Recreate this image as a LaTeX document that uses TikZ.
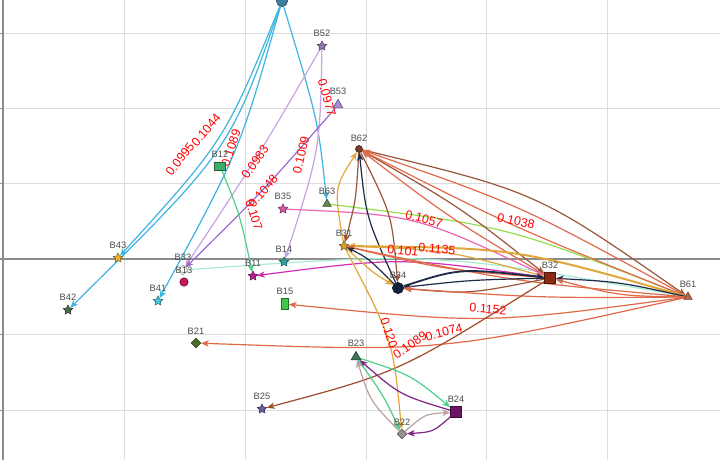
\documentclass[tikz,border=0pt]{standalone}
\usepackage{fontspec}
\setmainfont{Liberation Sans}
\usetikzlibrary{arrows.meta,shapes.geometric}
% colores de aristas
\definecolor{cyanE}{HTML}{3DB5DE}
\definecolor{lavE}{HTML}{C9A2E6}
\definecolor{purpE}{HTML}{9A6CCF}
\definecolor{greenE}{HTML}{4FD08A}
\definecolor{mintE}{HTML}{A6EDD2}
\definecolor{magE}{HTML}{D02FB5}
\definecolor{pinkE}{HTML}{E866B2}
\definecolor{limeE}{HTML}{95E04E}
\definecolor{brownE}{HTML}{9C5538}
\definecolor{orangeE}{HTML}{E0694A}
\definecolor{navyE}{HTML}{1E2A4A}
\definecolor{goldE}{HTML}{E0A63A}
\definecolor{plumE}{HTML}{7E2382}
\definecolor{roseE}{HTML}{B9A0A3}
\definecolor{rustE}{HTML}{A04A2A}
\definecolor{gridC}{HTML}{DCDCDC}
\definecolor{axisC}{HTML}{8C8C8C}
% colores de nodos
\definecolor{cTop}{HTML}{3D7FA0}
\definecolor{cVio}{HTML}{8E78B0}
\definecolor{cLila}{HTML}{A88AD8}
\definecolor{cCafe}{HTML}{7A3A2A}
\definecolor{cOliva}{HTML}{5E8A4A}
\definecolor{cRosa}{HTML}{D45AA8}
\definecolor{cVerde}{HTML}{3FAE6A}
\definecolor{cOro}{HTML}{EDB428}
\definecolor{cMusgo}{HTML}{4E6B52}
\definecolor{cCarmin}{HTML}{C2185B}
\definecolor{cTurq}{HTML}{48C6D4}
\definecolor{cFucsia}{HTML}{B8208E}
\definecolor{cTeal}{HTML}{2EA3A3}
\definecolor{cLima}{HTML}{3CC84A}
\definecolor{cMostaza}{HTML}{D9A02C}
\definecolor{cMarino}{HTML}{14213D}
\definecolor{cGranate}{HTML}{8B2A12}
\definecolor{cTeja}{HTML}{B5654F}
\definecolor{cPino}{HTML}{4B6E2A}
\definecolor{cBosque}{HTML}{3B7556}
\definecolor{cCiruela}{HTML}{6E1466}
\definecolor{cGris}{HTML}{9A9096}
\definecolor{cMalva}{HTML}{6A5C9C}
\pgfdeclarelayer{bg}
\pgfdeclarelayer{edges}
\pgfsetlayers{bg,edges,main}

\begin{document}
\begin{tikzpicture}[x=0.025cm, y=-0.025cm, label distance=2pt,
    mk/.style={inner sep=0pt, minimum size=6pt, line width=0.4pt, draw=#1!55!black, fill=#1},
    mc/.style={mk=#1, circle},
    ms/.style={mk=#1, rectangle},
    md/.style={mk=#1, diamond, minimum size=7pt},
    mtri/.style={mk=#1, regular polygon, regular polygon sides=3, minimum size=8pt},
    mstar/.style={mk=#1, star, star points=5, star point ratio=2, minimum size=7pt},
    lb/.style={text=black!70, font=\fontsize{6.6}{7}\selectfont, inner sep=0.5pt},
    e/.style={draw=#1, line width=0.85pt, -{Stealth[length=5.5pt, width=4.5pt, inset=1.5pt]}},
    wt/.style={text=red, font=\fontsize{8.8}{9}\selectfont, inner sep=0pt}]
    \useasboundingbox (0,0) rectangle (720,460);
    % fondo, rejilla y ejes
    \begin{pgfonlayer}{bg}
    \fill[white] (0,0) rectangle (720,460);
    \foreach \x in {124,245,366,486,607}
        \draw[gridC, line width=0.7pt] (\x,0) -- (\x,460);
    \foreach \y in {33,108,183,334,410} {
        \draw[gridC, line width=0.7pt] (3,\y) -- (720,\y);
        \draw[axisC, line width=0.7pt] (0,\y) -- (3,\y);
    }
    \draw[axisC, line width=1pt] (0,259) -- (720,259);
    \draw[axisC, line width=1pt] (3,0) -- (3,460);
    \end{pgfonlayer}

    % nodos
    \node[mc=cTop, minimum size=8pt] (top) at (282,1) {};
    \node[mstar=cVio, label={[lb]above:B52}] (B52) at (322,46) {};
    \node[mtri=cLila, label={[lb]above:B53}] (B53) at (338,105) {};
    \node[mc=cCafe, minimum size=5pt, label={[lb]above:B62}] (B62) at (359,149) {};
    \node[mtri=cOliva, minimum size=7pt, label={[lb]above:B63}] (B63) at (327,204) {};
    \node[mstar=cRosa, label={[lb]above:B35}] (B35) at (283,209) {};
    \node[ms=cVerde, minimum width=8pt, minimum height=6pt, label={[lb]above:B12}] (B12) at (220,166) {};
    \node[mstar=cOro, label={[lb]above:B43}] (B43) at (118,258) {};
    \node[mstar=cMusgo, label={[lb]above:B42}] (B42) at (68,310) {};
    \node[md=white, label={[lb]above:B33}] (B33) at (183,270) {};
    \node[mc=cCarmin, label={[lb]above:B13}] (B13) at (184,282) {};
    \node[mstar=cTurq, label={[lb]above:B41}] (B41) at (158,301) {};
    \node[mstar=cFucsia, label={[lb]above:B11}] (B11) at (253,276) {};
    \node[mstar=cTeal, label={[lb]above:B14}] (B14) at (284,262) {};
    \node[ms=cLima, minimum width=5pt, minimum height=8pt, label={[lb]above:B15}] (B15) at (285,304) {};
    \node[mstar=cMostaza, label={[lb]above:B31}] (B31) at (344,246) {};
    \node[mc=cMarino, minimum size=8pt, label={[lb]above:B34}] (B34) at (398,288) {};
    \node[ms=cGranate, minimum size=8pt, label={[lb]above:B32}] (B32) at (550,278) {};
    \node[mtri=cTeja, minimum size=7pt, label={[lb]above:B61}] (B61) at (688,297) {};
    \node[md=cPino, label={[lb]above:B21}] (B21) at (196,343) {};
    \node[mtri=cBosque, label={[lb]above:B23}] (B23) at (356,357) {};
    \node[ms=cCiruela, minimum size=8pt, label={[lb]above:B24}] (B24) at (456,412) {};
    \node[md=cGris, label={[lb]above:B22}] (B22) at (402,434) {};
    \node[mstar=cMalva, label={[lb]above:B25}] (B25) at (262,409) {};

    \begin{pgfonlayer}{edges}
    % aristas desde arriba
    \draw[e=cyanE] (top) .. controls (225,140) .. (B43);
    \draw[e=cyanE] (top) .. controls (230,150) .. (B42);
    \draw[e=cyanE] (top) .. controls (240,150) .. (B41);
    \draw[e=cyanE] (top) .. controls (318,120) .. (B63);
    \draw[e=lavE] (B52) .. controls (262,150) .. (B33);
    \draw[e=lavE] (B52) .. controls (320,150) .. (B14);
    \draw[e=purpE] (B53) .. controls (264,190) .. (B33);
    \draw[e=greenE] (B12) .. controls (240,215) .. (B11);
    % aristas largas
    \draw[e=mintE] (B33) .. controls (436,252) .. (B61);
    \draw[e=magE] (B32) .. controls (401,257) .. (B11);
    \draw[e=pinkE] (B35) .. controls (416,215) .. (B32);
    \draw[e=limeE] (B63) .. controls (507,226) .. (B61);
    % alrededor de B62
    \draw[e=brownE] (B62) .. controls (537,192) .. (B61);
    \draw[e=brownE] (B62) .. controls (460,207) .. (B32);
    \draw[e=brownE] (B62) .. controls (392,215) .. (B34);
    \draw[e=brownE] (B62) .. controls (356,200) .. (B31);
    \draw[e=orangeE] (B61) .. controls (520,205) .. (B62);
    \draw[e=orangeE] (B61) .. controls (515,228) .. (B62);
    \draw[e=orangeE] (B32) .. controls (450,218) .. (B62);
    \draw[e=navyE] (B34) .. controls (366,217) .. (B62);
    \draw[e=goldE] (B31) .. controls (334,188) .. (B62);
    % B31, B34, B32
    \draw[e=goldE, line width=1.4pt] (B61) .. controls (516,248) .. (B31);
    \draw[e=goldE] (B32) .. controls (447,250) .. (B31);
    \draw[e=orangeE] (B61) .. controls (516,282) .. (B31);
    \draw[e=orangeE] (B32) .. controls (447,270) .. (B31);
    \draw[e=navyE] (B34) .. controls (368,258) .. (B31);
    \draw[e=goldE] (B31) .. controls (372,272) .. (B34);
    \draw[e=navyE, line width=1.3pt] (B34) .. controls (460,268) .. (B32);
    \draw[e=navyE] (B32) .. controls (470,280) .. (B34);
    \draw[e=brownE] (B32) .. controls (470,294) .. (B34);
    \draw[e=navyE] (B61) .. controls (620,282) .. (B32);
    \draw[e=orangeE] (B61) .. controls (620,296) .. (B32);
    \draw[e=orangeE] (B61) .. controls (540,298) .. (B34);
    % hacia abajo
    \draw[e=orangeE] (B61) .. controls (487,324) .. (B15);
    \draw[e=orangeE] (B61) .. controls (442,352) .. (B21);
    \draw[e=rustE] (B32) .. controls (400,372) .. (B25);
    \draw[e=goldE] (B31) .. controls (393,340) .. (B22);
    % triangulo B23 B24 B22
    \draw[e=greenE] (B23) .. controls (411,375) .. (B24);
    \draw[e=plumE] (B24) .. controls (400,395) .. (B23);
    \draw[e=greenE] (B23) .. controls (382,393) .. (B22);
    \draw[e=roseE] (B22) .. controls (370,401) .. (B23);
    \draw[e=roseE] (B22) .. controls (425,414) .. (B24);
    \draw[e=plumE] (B24) .. controls (433,432) .. (B22);
    % pesos
    \node[wt, rotate=52] (w1) at (180,159) {0.0995};
    \node[wt, rotate=50] (w2) at (206,130) {0.1044};
    \node[wt, rotate=72] (w3) at (231,148) {0.1089};
    \node[wt, rotate=55] (w4) at (255,162) {0.0983};
    \node[wt, rotate=49] (w5) at (263,191) {0.1048};
    \node[wt, rotate=-72] (w6) at (254,215) {0.107};
    \node[wt, rotate=77] (w7) at (301,155) {0.1009};
    \node[wt, rotate=-74] (w8) at (327,98) {0.0977};
    \node[wt, rotate=-15] (w9) at (424,219) {0.1057};
    \node[wt, rotate=-12] (w10) at (516,221) {0.1038};
    \node[wt, rotate=-5] (w11) at (403,251) {0.101};
    \node[wt, rotate=-5] (w12) at (437,249) {0.1135};
    \node[wt, rotate=-5] (w13) at (488,309) {0.1152};
    \node[wt, rotate=15] (w14) at (444,332) {0.1074};
    \node[wt, rotate=35] (w15) at (410,345) {0.1089};
    \node[wt, rotate=-72] (w16) at (389,333) {0.120};
    \end{pgfonlayer}
\end{tikzpicture}
\end{document}
